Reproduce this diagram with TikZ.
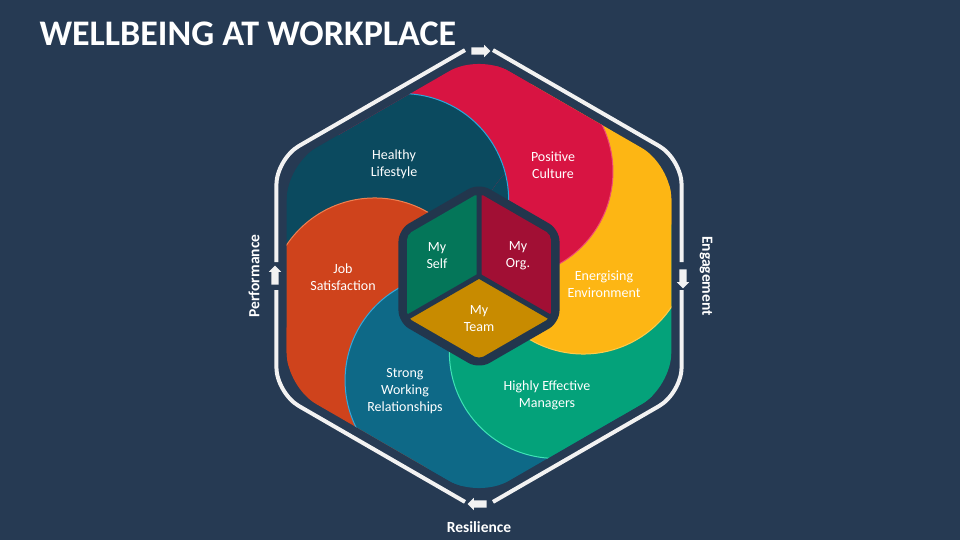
\documentclass[tikz,border=0pt]{standalone}
\usepackage{fontspec}
\setmainfont{Carlito}
\usetikzlibrary{shapes.arrows}

\definecolor{navy}{HTML}{263A53}
\definecolor{ring}{HTML}{F2F2F2}
\definecolor{teal1}{HTML}{0B4A5F}
\definecolor{red1}{HTML}{D81442}
\definecolor{yel1}{HTML}{FDB614}
\definecolor{grn1}{HTML}{04A27A}
\definecolor{blu1}{HTML}{0E6987}
\definecolor{org1}{HTML}{CF431C}
\definecolor{teal2}{HTML}{2CA8DC}
\definecolor{red2}{HTML}{EE4C74}
\definecolor{yel2}{HTML}{FFCB4C}
\definecolor{grn2}{HTML}{3FE3B5}
\definecolor{blu2}{HTML}{33A9DD}
\definecolor{org2}{HTML}{F08050}
\definecolor{core}{HTML}{22364D}
\definecolor{coreself}{HTML}{047659}
\definecolor{coreorg}{HTML}{A10F34}
\definecolor{coreteam}{HTML}{C88B00}

\tikzset{
  lbl/.style={text=white, align=center, font=\fontsize{14}{17}\selectfont},
  sidetext/.style={text=white, font=\bfseries\fontsize{15.5}{18}\selectfont},
  ringline/.style={draw=ring, line width=4pt, rounded corners=26pt},
  turnarrow/.style={single arrow, fill=ring, inner sep=3.5pt,
    minimum height=19pt, single arrow head extend=2.5pt},
  rimline/.style={line width=1pt},
}

\begin{document}
\begin{tikzpicture}[x=1pt,y=-1pt]
  \useasboundingbox (0,0) rectangle (960,540);
  \fill[navy] (0,0) rectangle (960,540);
  % title
  \node[anchor=west, text=white, font=\bfseries\fontsize{36}{40}\selectfont] (title) at (36,34) {WELLBEING AT WORKPLACE};

  \begin{scope}[shift={(479,276)}]
    % outer ring, broken where the arrows sit
    \draw[ringline] (-14,-225.9) -- (210:234) -- (-202.6,-14);
    \draw[ringline] (-202.6,14) -- (150:234) -- (-14,225.9);
    \draw[ringline] (14,225.9) -- (30:234) -- (202.6,14);
    \draw[ringline] (202.6,-14) -- (330:234) -- (14,-225.9);
    % arrows on the ring
    \node[turnarrow] (a1) at (0,-225) {};
    \node[turnarrow, shape border rotate=270] (a2) at (204,1) {};
    \node[turnarrow, shape border rotate=180] (a3) at (0,228) {};
    \node[turnarrow, shape border rotate=90] (a4) at (-204,1) {};
    % ring labels
    \node[sidetext, rotate=90] (perf) at (-225,0) {Performance};
    \node[sidetext, rotate=-90] (eng) at (227,0) {Engagement};
    \node[sidetext] (res) at (0,251) {Resilience};

    % coloured hexagon
    \begin{scope}
      \clip[rounded corners=34pt] (0:192.3) -- (30:222) -- (90:222) -- (150:222)
        -- (210:222) -- (270:222) -- (330:222) -- cycle;
      % wedges
      \fill[teal1] (0,0) -- (165:330) -- (195:330) -- (225:330) -- cycle;
      \fill[org1] (0,0) -- (105:330) -- (135:330) -- (165:330) -- cycle;
      \fill[blu1] (0,0) -- (45:330) -- (75:330) -- (105:330) -- cycle;
      \fill[grn1] (0,0) -- (-15:330) -- (15:330) -- (45:330) -- cycle;
      \fill[yel1] (0,0) -- (-75:330) -- (-45:330) -- (-15:330) -- cycle;
      \fill[red1] (0,0) -- (225:330) -- (255:330) -- (285:330) -- cycle;
      % disks, each one over its clockwise neighbour
      \fill[red1] (285:108) circle (106);
      \fill[teal1] (225:108) circle (106);
      \fill[org1] (165:108) circle (106);
      \fill[blu1] (105:108) circle (106);
      \fill[grn1] (45:108) circle (106);
      \fill[yel1] (345:108) circle (106);
      % close the loop: red over yellow
      \begin{scope}
        \clip (345:108) circle (108);
        \fill[red1] (285:108) circle (106);
        \clip (285:108) circle (108);
        \fill[teal1] (225:108) circle (106);
      \end{scope}
      % rims of the disks
      \draw[rimline, teal2] ([shift={(265:106)}]225:108) arc[start angle=265, end angle=365, radius=106];
      \draw[rimline, org2] ([shift={(205:106)}]165:108) arc[start angle=205, end angle=305, radius=106];
      \draw[rimline, blu2] ([shift={(145:106)}]105:108) arc[start angle=145, end angle=245, radius=106];
      \draw[rimline, grn2] ([shift={(85:106)}]45:108) arc[start angle=85, end angle=185, radius=106];
      \draw[rimline, yel2] ([shift={(25:106)}]345:108) arc[start angle=25, end angle=125, radius=106];
      \draw[rimline, red2] ([shift={(325:106)}]285:108) arc[start angle=325, end angle=425, radius=106];
    \end{scope}

    % centre hexagon
    \fill[core, rounded corners=12pt] (0:80.5) -- (30:93) -- (90:93) -- (150:93)
      -- (210:93) -- (270:93) -- (330:93) -- cycle;
    \fill[coreself, rounded corners=5pt] (0,0) -- (270:83) -- (210:83) -- (150:83) -- cycle;
    \fill[coreorg, rounded corners=5pt] (0,0) -- (270:83) -- (330:83) -- (30:83) -- cycle;
    \fill[coreteam, rounded corners=5pt] (0,0) -- (30:83) -- (90:83) -- (150:83) -- cycle;
    \draw[core, line width=5pt] (0,0) -- (270:86) (0,0) -- (30:86) (0,0) -- (150:86);

    % segment labels
    \node[lbl] (l1) at (-85,-112) {Healthy\\Lifestyle};
    \node[lbl] (l2) at (74,-111) {Positive\\Culture};
    \node[lbl] (l3) at (125,8) {Energising\\Environment};
    \node[lbl] (l4) at (68,119) {Highly Effective\\Managers};
    \node[lbl] (l5) at (-74,115) {Strong\\Working\\Relationships};
    \node[lbl] (l6) at (-136,1) {Job\\Satisfaction};
    % core labels
    \node[lbl] (c1) at (-42,-20) {My\\Self};
    \node[lbl] (c2) at (39,-20) {My\\Org.};
    \node[lbl] (c3) at (0,43) {My\\Team};
  \end{scope}
\end{tikzpicture}
\end{document}
